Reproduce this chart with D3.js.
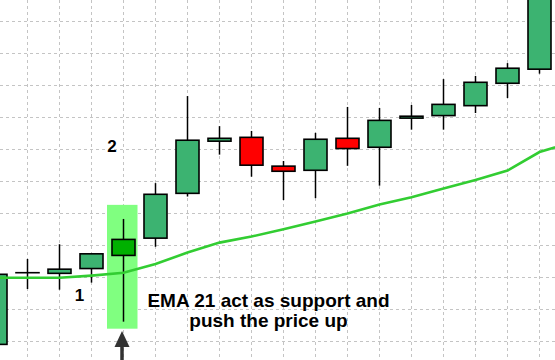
<!DOCTYPE html>
<html>
<head>
<meta charset="utf-8">
<script src="https://cdn.jsdelivr.net/npm/d3@7"></script>
<style>
html,body{margin:0;padding:0;background:#fff;}
svg{display:block;}
</style>
</head>
<body>
<svg id="chart" width="555" height="360"></svg>
<script>
// ---- data ----
const opens  = [99.1, 121.5, 121.3, 122.8, 126.9, 132.3, 146.3, 162.6, 163.8, 154.8, 153.5, 163.5, 160.7, 169.8, 170.6, 173.7, 180.7, 185.1];
const highs  = [121.0, 125.8, 130.4, 127.4, 138.3, 149.5, 176.7, 167.3, 165.8, 156.4, 165.2, 173.3, 173.0, 173.9, 182.0, 183.0, 187.0, 215.0];
const lows   = [99.1, 116.4, 116.2, 118.4, 106.2, 129.6, 145.3, 158.4, 151.5, 144.2, 144.8, 154.9, 148.7, 166.2, 166.2, 171.4, 176.1, 183.7];
const closes = [121.0, 121.5, 122.6, 127.4, 131.9, 146.0, 162.9, 163.5, 155.1, 153.2, 163.2, 160.3, 169.1, 170.4, 174.1, 181.0, 185.4, 212.0];
const ema21  = [119.9, 119.9, 119.9, 120.6, 121.5, 124.2, 127.8, 130.9, 132.8, 135.1, 137.5, 140.0, 142.8, 145.1, 147.8, 150.5, 153.4, 159.2, 162.2];
const gridPrices = [100, 110, 120, 130, 140, 150, 160, 170, 180, 190, 200];
const highlightIndex = 4;
const label1 = "1";
const label2 = "2";
const noteLines = ["EMA 21 act as support and", "push the price up"];

// ---- scales ----
const W = 555, H = 360;
const svg = d3.select("#chart");
const x = d3.scaleLinear().domain([0, 1]).range([-4.5, 27.5]);
const y = d3.scaleLinear().domain([100, 200]).range([341.5, 21.5]);
const gridIdx = d3.range(0, 19);

// grid
const grid = svg.append("g").attr("stroke", "#c4c4c4").attr("stroke-width", 1).attr("stroke-dasharray", "3,3");
grid.selectAll("line.v").data(gridIdx).join("line").attr("class", "v")
  .attr("x1", d => x(d)).attr("x2", d => x(d)).attr("y1", 0).attr("y2", H);
grid.selectAll("line.h").data(gridPrices).join("line").attr("class", "h")
  .attr("x1", 0).attr("x2", W).attr("y1", d => y(d)).attr("y2", d => y(d));

// highlight box
svg.append("rect")
  .attr("x", x(highlightIndex) - 16.5).attr("width", 30.5)
  .attr("y", y(142.7)).attr("height", y(104) - y(142.7))
  .attr("fill", "#80ff80");

// candles
const candles = opens.map((o, i) => ({i, o, h: highs[i], l: lows[i], c: closes[i]}));
const cg = svg.append("g");
cg.selectAll("line.wick").data(candles).join("line").attr("class", "wick")
  .attr("x1", d => x(d.i)).attr("x2", d => x(d.i))
  .attr("y1", d => y(d.h)).attr("y2", d => y(d.l))
  .attr("stroke", "#000").attr("stroke-width", 1.5);
cg.selectAll("rect.body").data(candles).join("rect").attr("class", "body")
  .attr("x", d => x(d.i) - 11.5).attr("width", 23)
  .attr("y", d => y(Math.max(d.o, d.c)))
  .attr("height", d => Math.max(0.001, Math.abs(y(d.o) - y(d.c))))
  .attr("fill", d => d.i === highlightIndex ? "#00b000" : (d.c >= d.o ? "#3cb371" : "#ff0000"))
  .attr("stroke", "#000").attr("stroke-width", 1.6);

// EMA line
svg.append("path").datum(ema21)
  .attr("d", d3.line().x((d, i) => x(i)).y(d => y(d)))
  .attr("fill", "none").attr("stroke", "#32cd32").attr("stroke-width", 2.6);

// labels
const font = "Liberation Sans, Arial, sans-serif";
svg.append("text").attr("x", 79.5).attr("y", 300.7).attr("text-anchor", "middle")
  .attr("font-family", font).attr("font-weight", "bold").attr("font-size", 17).attr("fill", "#000").text(label1);
svg.append("text").attr("x", 112).attr("y", 152).attr("text-anchor", "middle")
  .attr("font-family", font).attr("font-weight", "bold").attr("font-size", 17).attr("fill", "#000").text(label2);
svg.append("text").attr("text-anchor", "middle")
  .attr("font-family", font).attr("font-weight", "bold").attr("font-size", 19).attr("fill", "#000")
  .selectAll("tspan").data(noteLines).join("tspan")
  .attr("x", 268.5).attr("y", (d, i) => 306.7 + i * 20).text(d => d);

// arrow
const ax = x(highlightIndex) - 1.5;
svg.append("path")
  .attr("d", `M${ax},331 L${ax + 7.5},347 L${ax - 7.5},347 Z`)
  .attr("fill", "#333");
svg.append("line").attr("x1", ax).attr("x2", ax).attr("y1", 345).attr("y2", 361)
  .attr("stroke", "#333").attr("stroke-width", 3.5);
</script>
</body>
</html>
